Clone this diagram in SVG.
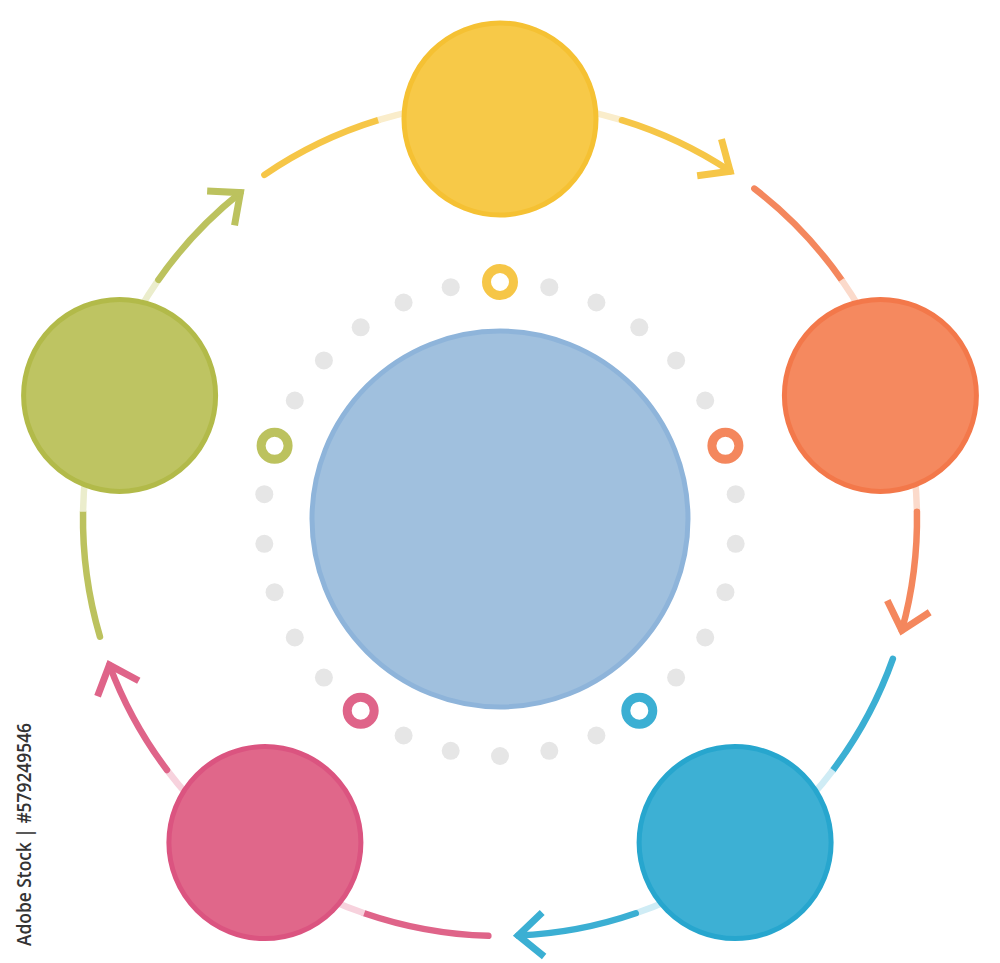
<svg xmlns="http://www.w3.org/2000/svg" width="1000" height="963" viewBox="0 0 1000 963">
<style>
.arc{fill:none;stroke-width:6.5;stroke-linecap:round}
.faint{fill:none;stroke-width:6.5;stroke-linecap:butt}
.node{stroke-width:5}
.dot{fill:#E6E6E6}
.ring{fill:none;stroke-width:9}
.ah{fill:none;stroke-width:7;stroke-linejoin:miter;stroke-miterlimit:10}
</style>
<defs>
<marker id="ay" markerUnits="userSpaceOnUse" orient="auto" refX="0" refY="0" markerWidth="60" markerHeight="60" style="overflow:visible"><path class="ah" d="M-25,-22 L0,0 L-25,22" stroke="#F6C647"/></marker>
<marker id="ao" markerUnits="userSpaceOnUse" orient="auto" refX="0" refY="0" markerWidth="60" markerHeight="60" style="overflow:visible"><path class="ah" d="M-25,-22 L0,0 L-25,22" stroke="#F4875D"/></marker>
<marker id="ab" markerUnits="userSpaceOnUse" orient="auto" refX="0" refY="0" markerWidth="60" markerHeight="60" style="overflow:visible"><path class="ah" d="M-25,-22 L0,0 L-25,22" stroke="#3BAFD3"/></marker>
<marker id="ap" markerUnits="userSpaceOnUse" orient="auto" refX="0" refY="0" markerWidth="60" markerHeight="60" style="overflow:visible"><path class="ah" d="M-25,-22 L0,0 L-25,22" stroke="#DF6489"/></marker>
<marker id="ag" markerUnits="userSpaceOnUse" orient="auto" refX="0" refY="0" markerWidth="60" markerHeight="60" style="overflow:visible"><path class="ah" d="M-25,-22 L0,0 L-25,22" stroke="#BCC25E"/></marker>
</defs>
<rect width="1000" height="963" fill="#FFFFFF"/>

<g id="connectors">
<!-- yellow -->
<path class="faint" stroke="#FAEDCB" d="M586.70,111.11 A417,417 0 0 1 621.92,120.22"/>
<path class="arc" stroke="#F6C647" marker-end="url(#ay)" d="M621.92,120.22 A417,417 0 0 1 730.16,171.27"/>
<path class="arc" stroke="#F6C647" d="M264.41,174.93 A417,417 0 0 1 378.08,120.22"/>
<path class="faint" stroke="#FAEDCB" d="M378.08,120.22 A417,417 0 0 1 413.30,111.11"/>
<!-- orange -->
<path class="faint" stroke="#FBDACB" d="M914.72,475.41 A417,417 0 0 1 916.94,511.72"/>
<path class="arc" stroke="#F4875D" marker-end="url(#ao)" d="M916.94,511.72 A417,417 0 0 1 901.83,630.44"/>
<path class="arc" stroke="#F4875D" d="M754.37,188.57 A417,417 0 0 1 841.59,279.82"/>
<path class="faint" stroke="#FBDACB" d="M841.59,279.82 A417,417 0 0 1 861.13,310.5"/>
<!-- blue -->
<path class="faint" stroke="#CFECF5" d="M669.61,899.95 A417,417 0 0 1 635.76,913.28"/>
<path class="arc" stroke="#3BAFD3" marker-end="url(#ab)" d="M635.76,913.28 A417,417 0 0 1 518.19,935.60"/>
<path class="arc" stroke="#3BAFD3" d="M892.84,658.88 A417,417 0 0 1 833.03,769.96"/>
<path class="faint" stroke="#CFECF5" d="M833.03,769.96 A417,417 0 0 1 809.89,798.03"/>
<!-- pink -->
<path class="faint" stroke="#F7D2DD" d="M190.11,798.03 A417,417 0 0 1 166.97,769.96"/>
<path class="arc" stroke="#DF6489" marker-end="url(#ap)" d="M166.97,769.96 A417,417 0 0 1 109.41,665.04"/>
<path class="arc" stroke="#DF6489" d="M488.36,935.84 A417,417 0 0 1 364.24,913.28"/>
<path class="faint" stroke="#F7D2DD" d="M364.24,913.28 A417,417 0 0 1 330.39,899.95"/>
<!-- green -->
<path class="faint" stroke="#EBEDCC" d="M138.87,310.5 A417,417 0 0 1 158.41,279.82"/>
<path class="arc" stroke="#BCC25E" marker-end="url(#ag)" d="M158.41,279.82 A417,417 0 0 1 240.41,192.65"/>
<path class="arc" stroke="#BCC25E" d="M99.97,636.74 A417,417 0 0 1 83.06,511.72"/>
<path class="faint" stroke="#EBEDCC" d="M83.06,511.72 A417,417 0 0 1 85.28,475.41"/>
</g>

<g id="dots">
<circle class="dot" cx="450.7" cy="287.2" r="9"/>
<circle class="dot" cx="403.6" cy="302.5" r="9"/>
<circle class="dot" cx="360.7" cy="327.3" r="9"/>
<circle class="dot" cx="323.9" cy="360.4" r="9"/>
<circle class="dot" cx="294.8" cy="400.5" r="9"/>
<circle class="dot" cx="264.3" cy="494.2" r="9"/>
<circle class="dot" cx="264.3" cy="543.8" r="9"/>
<circle class="dot" cx="274.6" cy="592.2" r="9"/>
<circle class="dot" cx="294.8" cy="637.5" r="9"/>
<circle class="dot" cx="323.9" cy="677.6" r="9"/>
<circle class="dot" cx="403.6" cy="735.5" r="9"/>
<circle class="dot" cx="450.7" cy="750.8" r="9"/>
<circle class="dot" cx="500" cy="756" r="9"/>
<circle class="dot" cx="549.3" cy="750.8" r="9"/>
<circle class="dot" cx="596.4" cy="735.5" r="9"/>
<circle class="dot" cx="676.1" cy="677.6" r="9"/>
<circle class="dot" cx="705.2" cy="637.5" r="9"/>
<circle class="dot" cx="725.4" cy="592.2" r="9"/>
<circle class="dot" cx="735.7" cy="543.8" r="9"/>
<circle class="dot" cx="735.7" cy="494.2" r="9"/>
<circle class="dot" cx="705.2" cy="400.5" r="9"/>
<circle class="dot" cx="676.1" cy="360.4" r="9"/>
<circle class="dot" cx="639.3" cy="327.3" r="9"/>
<circle class="dot" cx="596.4" cy="302.5" r="9"/>
<circle class="dot" cx="549.3" cy="287.2" r="9"/>
<circle class="ring" cx="500" cy="282" r="13.5" stroke="#F6C647"/>
<circle class="ring" cx="725.4" cy="445.8" r="13.5" stroke="#F4875D"/>
<circle class="ring" cx="639.3" cy="710.7" r="13.5" stroke="#3BAFD3"/>
<circle class="ring" cx="360.7" cy="710.7" r="13.5" stroke="#DF6489"/>
<circle class="ring" cx="274.6" cy="445.8" r="13.5" stroke="#BCC25E"/>
</g>

<g id="center"><circle class="node" cx="500" cy="519" r="188" fill="#A0C0DE" stroke="#8EB4DA"/></g>
<g id="node-yellow"><circle class="node" cx="500" cy="119" r="96" fill="#F7C948" stroke="#F5C133"/></g>
<g id="node-orange"><circle class="node" cx="880.4" cy="395.4" r="96" fill="#F5895F" stroke="#F3784A"/></g>
<g id="node-blue"><circle class="node" cx="735.1" cy="842.6" r="96" fill="#3DB0D4" stroke="#27A6CE"/></g>
<g id="node-pink"><circle class="node" cx="264.9" cy="842.6" r="96" fill="#E0678A" stroke="#DB5480"/></g>
<g id="node-green"><circle class="node" cx="119.6" cy="395.4" r="96" fill="#BEC462" stroke="#B2BA49"/></g>

<text transform="translate(31,946) rotate(-90)" font-family="'Open Sans','DejaVu Sans',sans-serif" font-size="20" font-weight="600" fill="#333333" textLength="223" lengthAdjust="spacingAndGlyphs">Adobe Stock | #579249546</text>
</svg>
